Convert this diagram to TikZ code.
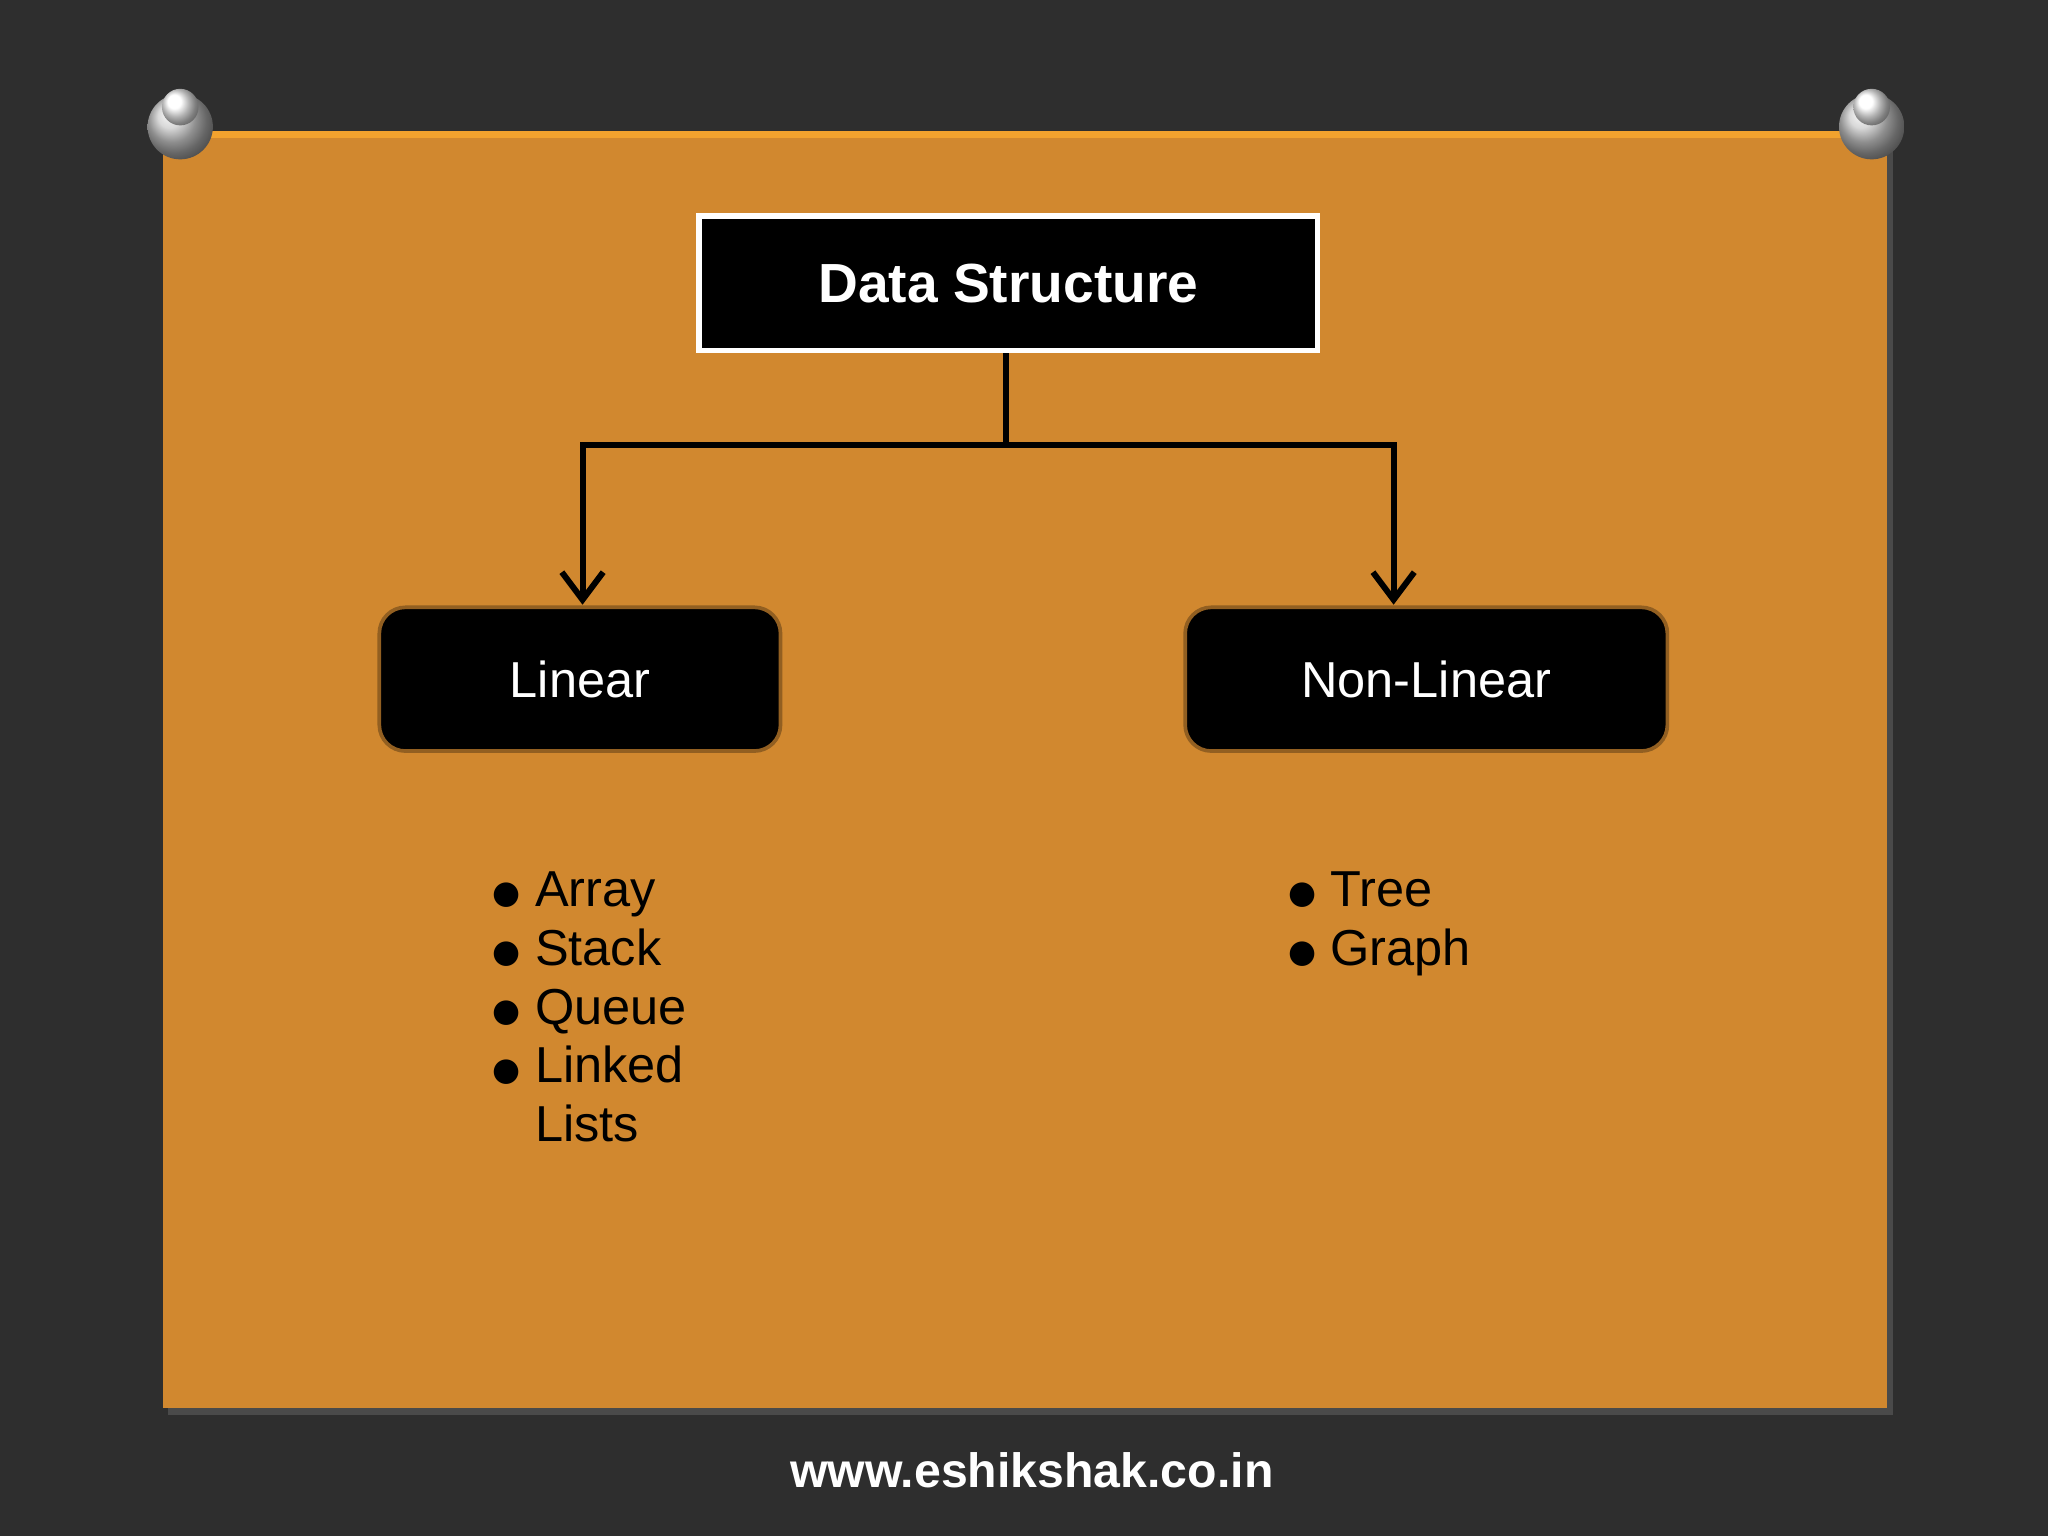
\documentclass[tikz,border=0pt]{standalone}
\usepackage{fontspec}
\setmainfont{Liberation Sans}
\newfontfamily\djv{DejaVu Sans}
\usetikzlibrary{arrows.meta}
\definecolor{bg}{HTML}{2E2E2E}
\definecolor{board}{HTML}{D1882F}
\definecolor{boardtop}{HTML}{F2A22E}
\newcommand{\bul}{\raisebox{0.6pt}{\djv\fontsize{7}{10}\selectfont ●}\ }
\tikzset{
  hdr/.style={draw=white,line width=1.2pt,fill=black,text=white,minimum width=4.73cm,minimum height=1.03cm,font=\bfseries\fontsize{12}{14}\selectfont},
  cat/.style={draw=board!70!black,line width=0.8pt,fill=black,text=white,rounded corners=0.2cm,minimum height=1.1cm,font=\fontsize{11}{13}\selectfont},
  conn/.style={line width=1.3pt,-{Straight Barb[length=6pt,width=9pt]}},
  lst/.style={anchor=north west,align=left,font=\fontsize{11}{12.8}\selectfont}
}
\begin{document}
\begin{tikzpicture}[x=0.01cm,y=-0.01cm]
\useasboundingbox (0,0) rectangle (1568,1176);
\fill[bg] (0,0) rectangle (1568,1176);
\fill[black!60,opacity=0.5] (129,104) rectangle (1449,1083);
\fill[board] (125,100) rectangle (1445,1078);
\fill[boardtop] (125,100) rectangle (1445,106);
\foreach \p in {(138,97),(1433,97)}{
  \shade[ball color=gray!40] \p circle (25);
  \shade[ball color=white] \p ++(0,-15) circle (14);
}
\node[hdr] (ds) at (772,217) {Data Structure};
\node[cat,minimum width=3.07cm] (lin) at (444,520) {Linear};
\node[cat,minimum width=3.69cm] (nl) at (1092,520) {Non-Linear};
\coordinate (j) at (770,341);
\draw[line width=1.3pt] (ds.south -| j) -- (j);
\draw[conn] (j) -| (446,463);
\draw[conn] (j) -| (1067,463);
\node[lst] (l1) at (365,655) {\bul Array\\\bul Stack\\\bul Queue\\\bul Linked\\\phantom{\bul}Lists};
\node[lst] (l2) at (974,655) {\bul Tree\\\bul Graph};
\node[text=white,font=\bfseries\fontsize{10.5}{12}\selectfont] (ft) at (790,1126) {www.eshikshak.co.in};
\end{tikzpicture}
\end{document}
